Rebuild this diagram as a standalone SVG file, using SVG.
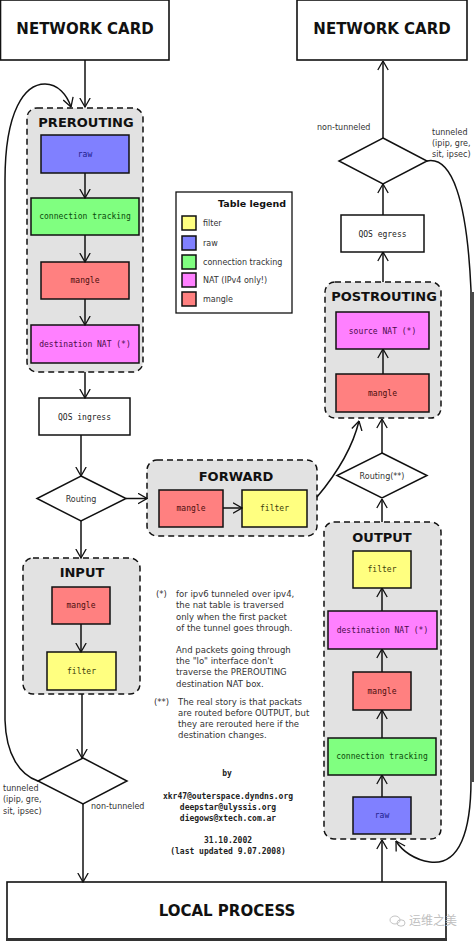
<svg xmlns="http://www.w3.org/2000/svg" width="474" height="943" viewBox="0 0 474 943">
<defs>
<marker id="arr" viewBox="0 0 10 12" refX="9.5" refY="6" markerWidth="10" markerHeight="12" markerUnits="userSpaceOnUse" orient="auto">
<path d="M0.5,0.8 L9.5,6 L0.5,11.2" fill="none" stroke="#111" stroke-width="1.3"/>
</marker>
</defs>
<style>
.big{fill:#fff;stroke:#111;stroke-width:1.6}
.bigt{font-family:"DejaVu Sans",sans-serif;font-weight:bold;font-size:15px;fill:#111;text-anchor:middle}
.grp{fill:#e2e2e2;stroke:#111;stroke-width:1.5;stroke-dasharray:6,4}
.gt{font-family:"DejaVu Sans",sans-serif;font-weight:bold;font-size:13px;fill:#111;text-anchor:middle}
.box{stroke:#111;stroke-width:1.5}
.bt{font-family:"DejaVu Sans Mono",monospace;font-size:8px;text-anchor:middle}
.raw{fill:#8080ff}.rawt{fill:#1c1c8c}
.ct{fill:#80ff80}.ctt{fill:#0b4a0b}
.mg{fill:#ff8080}.mgt{fill:#4a0c0c}
.nat{fill:#ff80ff}.natt{fill:#4a0c4a}
.fl{fill:#ffff80}.flt{fill:#3c3c0c}
.plain{fill:#fff;stroke:#111;stroke-width:1.5}
.pt{font-family:"DejaVu Sans Mono",monospace;font-size:8px;fill:#222;text-anchor:middle}
.dia{fill:#fff;stroke:#111;stroke-width:1.5}
.st{font-family:"DejaVu Sans",sans-serif;font-size:8px;fill:#333}
.stc{font-family:"DejaVu Sans",sans-serif;font-size:8px;fill:#333;text-anchor:middle}
.note{font-family:"DejaVu Sans",sans-serif;font-size:8.5px;fill:#333}
.cred{font-family:"DejaVu Sans Mono",monospace;font-weight:bold;font-size:8px;fill:#222;text-anchor:middle}
.lg{font-family:"DejaVu Sans",sans-serif;font-size:8px;fill:#333}
#connectors path,#connectors line{fill:none;stroke:#111;stroke-width:1.5}
.ah{marker-end:url(#arr)}
</style>
<rect width="474" height="943" fill="#fff"/>

<g id="nc-left"><rect class="big" x="0.5" y="0" width="168.5" height="60"/><text class="bigt" x="85" y="34">NETWORK CARD</text></g>
<g id="nc-right"><rect class="big" x="297" y="0" width="170" height="60"/><text class="bigt" x="382" y="34">NETWORK CARD</text></g>

<g id="prerouting">
<rect class="grp" x="27" y="108" width="116" height="264" rx="10"/>
<text class="gt" x="86" y="127">PREROUTING</text>
</g>
<g id="pre-raw"><rect class="box raw" x="41" y="135" width="88" height="38"/><text class="bt rawt" x="85" y="157">raw</text></g>
<g id="pre-conntrack"><rect class="box ct" x="31" y="198" width="108" height="37"/><text class="bt ctt" x="85" y="219">connection tracking</text></g>
<g id="pre-mangle"><rect class="box mg" x="41" y="262" width="88" height="37"/><text class="bt mgt" x="85" y="283">mangle</text></g>
<g id="pre-dnat"><rect class="box nat" x="31" y="325" width="108" height="38"/><text class="bt natt" x="85" y="347">destination NAT (*)</text></g>

<g id="qos-ingress"><rect class="plain" x="39" y="398" width="91" height="37"/><text class="pt" x="84.5" y="419.5">QOS ingress</text></g>
<g id="routing1"><polygon class="dia" points="81,476 126,498.5 81,521 37,498.5"/><text class="stc" x="81" y="501.5">Routing</text></g>

<g id="forward">
<rect class="grp" x="147" y="460" width="170" height="76" rx="10"/>
<text class="gt" x="236" y="481">FORWARD</text>
</g>
<g id="fwd-mangle"><rect class="box mg" x="159" y="490" width="64" height="37"/><text class="bt mgt" x="191" y="511">mangle</text></g>
<g id="fwd-filter"><rect class="box fl" x="242" y="490" width="65" height="37"/><text class="bt flt" x="274.5" y="511">filter</text></g>

<g id="input">
<rect class="grp" x="23" y="558" width="117" height="136" rx="10"/>
<text class="gt" x="82" y="577">INPUT</text>
</g>
<g id="in-mangle"><rect class="box mg" x="52" y="587" width="58" height="37"/><text class="bt mgt" x="81" y="608">mangle</text></g>
<g id="in-filter"><rect class="box fl" x="47" y="652" width="69" height="38"/><text class="bt flt" x="81.5" y="674">filter</text></g>

<g id="tunnel-in"><polygon class="dia" points="83,758 127,781 83,804 38,781"/>
<text class="st" x="3" y="791">tunneled</text><text class="st" x="3" y="802">(ipip, gre,</text><text class="st" x="3" y="814">sit, ipsec)</text>
<text class="st" x="91" y="809">non-tunneled</text></g>

<g id="local-process"><rect class="big" x="7" y="882" width="439" height="57"/><rect x="6" y="938" width="441" height="3" fill="#333"/><text class="bigt" x="227" y="916">LOCAL PROCESS</text></g>

<g id="tunnel-out"><polygon class="dia" points="383,138 427,161 383,184 339,161"/>
<text class="st" x="317" y="130">non-tunneled</text>
<text class="st" x="432" y="135">tunneled</text><text class="st" x="432" y="146">(ipip, gre,</text><text class="st" x="432" y="157">sit, ipsec)</text></g>

<g id="qos-egress"><rect class="plain" x="341" y="215" width="83" height="37"/><text class="pt" x="382.5" y="236.5">QOS egress</text></g>

<g id="postrouting">
<rect class="grp" x="325" y="282" width="116" height="136" rx="10"/>
<text class="gt" x="384" y="301">POSTROUTING</text>
</g>
<g id="post-snat"><rect class="box nat" x="336" y="312" width="93" height="37"/><text class="bt natt" x="382.5" y="333.5">source NAT (*)</text></g>
<g id="post-mangle"><rect class="box mg" x="336" y="374" width="93" height="38"/><text class="bt mgt" x="382.5" y="396">mangle</text></g>

<g id="routing2"><polygon class="dia" points="382,453 427,475.5 382,498 337,475.5"/><text class="stc" x="382" y="478.5">Routing(**)</text></g>

<g id="output">
<rect class="grp" x="324" y="522" width="117" height="317" rx="10"/>
<text class="gt" x="382" y="542">OUTPUT</text>
</g>
<g id="out-filter"><rect class="box fl" x="353" y="551" width="58" height="37"/><text class="bt flt" x="382" y="572">filter</text></g>
<g id="out-dnat"><rect class="box nat" x="328" y="611" width="109" height="38"/><text class="bt natt" x="382.5" y="633">destination NAT (*)</text></g>
<g id="out-mangle"><rect class="box mg" x="353" y="672" width="58" height="38"/><text class="bt mgt" x="382" y="694">mangle</text></g>
<g id="out-conntrack"><rect class="box ct" x="328" y="738" width="108" height="37"/><text class="bt ctt" x="382" y="759">connection tracking</text></g>
<g id="out-raw"><rect class="box raw" x="353" y="797" width="58" height="37"/><text class="bt rawt" x="382" y="818">raw</text></g>

<g id="legend">
<rect x="176" y="192" width="116" height="121" fill="#fff" stroke="#111" stroke-width="1.3"/>
<text x="286" y="207" font-family="DejaVu Sans, sans-serif" font-weight="bold" font-size="9.5" fill="#111" text-anchor="end">Table legend</text>
<rect class="box fl" x="182" y="216" width="14" height="14"/><text class="lg" x="203" y="226">filter</text>
<rect class="box raw" x="182" y="236" width="14" height="14"/><text class="lg" x="203" y="246">raw</text>
<rect class="box ct" x="182" y="255" width="14" height="14"/><text class="lg" x="203" y="265">connection tracking</text>
<rect class="box nat" x="182" y="273" width="14" height="14"/><text class="lg" x="203" y="283">NAT  (IPv4 only!)</text>
<rect class="box mg" x="182" y="292" width="14" height="14"/><text class="lg" x="203" y="302">mangle</text>
</g>

<g id="notes">
<text class="note" x="156" y="597">(*)</text>
<text class="note" x="176" y="597">for ipv6 tunneled over ipv4,</text>
<text class="note" x="176" y="608">the nat table is traversed</text>
<text class="note" x="176" y="620">only when the first packet</text>
<text class="note" x="176" y="631">of the tunnel goes through.</text>
<text class="note" x="176" y="653">And packets going through</text>
<text class="note" x="176" y="664">the "lo" interface don't</text>
<text class="note" x="176" y="675">traverse the PREROUTING</text>
<text class="note" x="176" y="687">destination NAT box.</text>
<text class="note" x="154" y="705">(**)</text>
<text class="note" x="178" y="705">The real story is that packats</text>
<text class="note" x="178" y="716">are routed before OUTPUT, but</text>
<text class="note" x="178" y="727">they are rerouted here if the</text>
<text class="note" x="178" y="738">destination changes.</text>
</g>

<g id="credits">
<text class="cred" x="227" y="776">by</text>
<text class="cred" x="228" y="799">xkr47@outerspace.dyndns.org</text>
<text class="cred" x="228" y="810">deepstar@ulyssis.org</text>
<text class="cred" x="228" y="821">diegows@xtech.com.ar</text>
<text class="cred" x="228" y="843">31.10.2002</text>
<text class="cred" x="228" y="854">(last updated 9.07.2008)</text>
</g>

<g id="watermark" fill="none" stroke="#c4c4c4" stroke-width="1">
<ellipse cx="395" cy="920" rx="5" ry="4"/>
<ellipse cx="401" cy="923" rx="4" ry="3.2"/>
<text x="409" y="925" font-family="Noto Sans CJK SC, sans-serif" font-size="12" fill="#c0c0c0" stroke="none">运维之美</text>
</g>

<g id="connectors">
<line class="ah" x1="85" y1="60" x2="85" y2="107"/>
<path class="ah" d="M38,781 C20,775 6,755 5,720 L5,180 C5,110 25,84 45,84 C58,84 67,95 71,107"/>
<line class="ah" x1="85" y1="173" x2="85" y2="198"/>
<line class="ah" x1="85" y1="235" x2="85" y2="262"/>
<line class="ah" x1="85" y1="299" x2="85" y2="325"/>
<line class="ah" x1="85" y1="372" x2="85" y2="398"/>
<line class="ah" x1="81" y1="435" x2="81" y2="476"/>
<line class="ah" x1="126" y1="498.5" x2="147" y2="498.5"/>
<line class="ah" x1="223" y1="508" x2="242" y2="508"/>
<path class="ah" d="M317,497 C333,478 352,450 359,421"/>
<line class="ah" x1="81" y1="521" x2="81" y2="558"/>
<line class="ah" x1="81" y1="624" x2="81" y2="652"/>
<line class="ah" x1="82" y1="694" x2="82" y2="758"/>
<line class="ah" x1="83" y1="804" x2="83" y2="882"/>
<line class="ah" x1="383" y1="138" x2="383" y2="61"/>
<path class="ah" d="M427,161 C452,156 467,200 471,290 L471,780 C471,830 460,866 430,862 C415,860 402,851 396,841"/>
<line class="ah" x1="383" y1="215" x2="383" y2="184"/>
<line class="ah" x1="383" y1="282" x2="383" y2="252"/>
<line class="ah" x1="383" y1="374" x2="383" y2="349"/>
<line class="ah" x1="382" y1="453" x2="382" y2="419"/>
<line class="ah" x1="382" y1="522" x2="382" y2="499"/>
<line class="ah" x1="382" y1="611" x2="382" y2="588"/>
<line class="ah" x1="382" y1="672" x2="382" y2="649"/>
<line class="ah" x1="382" y1="738" x2="382" y2="710"/>
<line class="ah" x1="382" y1="797" x2="382" y2="775"/>
<line class="ah" x1="382" y1="882" x2="382" y2="840"/>
</g>
<rect x="470" y="292" width="4" height="490" fill="#4a4a4a"/>
</svg>
